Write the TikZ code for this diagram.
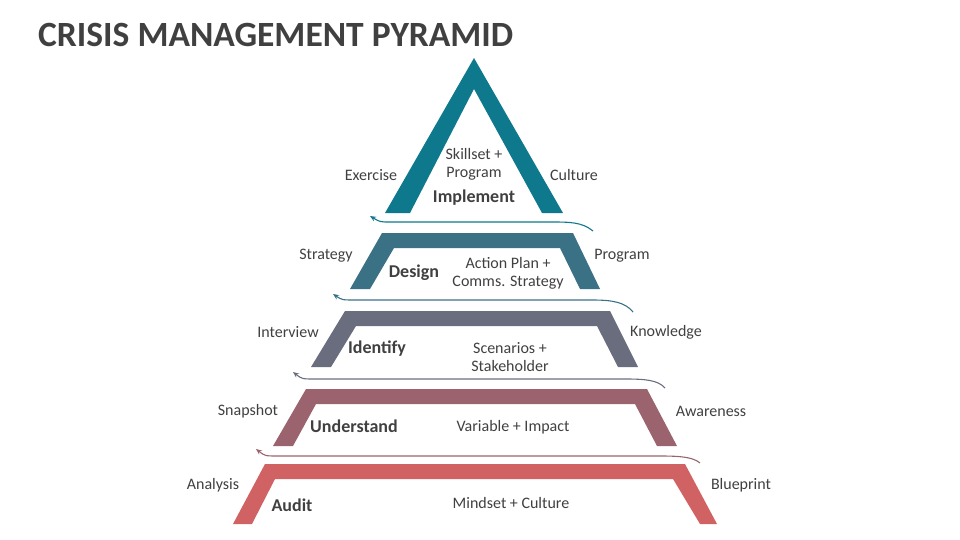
\documentclass[tikz,border=0pt]{standalone}
\usepackage{fontspec}
\setmainfont{Carlito}
\usetikzlibrary{arrows.meta}
\definecolor{cT}{HTML}{0E788C}
\definecolor{cD}{HTML}{3A7185}
\definecolor{cI}{HTML}{6A6D7E}
\definecolor{cU}{HTML}{9A636D}
\definecolor{cA}{HTML}{D06263}
\definecolor{txt}{HTML}{404040}
\begin{document}
\begin{tikzpicture}[x=1pt,y=-1pt,
  lbl/.style={font=\fontsize{16}{18}\selectfont,text=txt,align=center,inner sep=0},
  bold/.style={font=\fontsize{18}{20}\selectfont\bfseries,text=txt,inner sep=0},
  arr/.style={line width=1.1pt,-{Stealth[length=6pt,width=5pt]}}]
\useasboundingbox (0,0) rectangle (960,540);
\node[anchor=west,font=\fontsize{35.5}{38}\selectfont\bfseries,text=txt,inner sep=0] (title) at (38,35) {CRISIS MANAGEMENT PYRAMID};
% shapes
\fill[cT] (474,58)--(563,213)--(542,213)--(474,89)--(410,213)--(385,213)--cycle;
\fill[cD] (382,233)--(573,233)--(600,289)--(580,289)--(560,248)--(394,248)--(370,289)--(350,289)--cycle;
\fill[cI] (345,311)--(610,311)--(638,367)--(618,367)--(597,326)--(356,326)--(331,367)--(311,367)--cycle;
\fill[cU] (306,389)--(647,389)--(677,446)--(657,446)--(635,404)--(316,404)--(293,446)--(273,446)--cycle;
\fill[cA] (265,464)--(685,464)--(717,524)--(700,524)--(673,479)--(275,479)--(252,524)--(233,524)--cycle;
% arrows
\coordinate (a1s) at (593,231); \coordinate (a1e) at (370,216);
\coordinate (a2s) at (633,312); \coordinate (a2e) at (333,294);
\coordinate (a3s) at (665,388); \coordinate (a3e) at (293,372);
\coordinate (a4s) at (700,463); \coordinate (a4e) at (256,449);
\draw[arr,cT] (a1s) .. controls (582,222) and (570,222) .. (550,222) -- (390,222) .. controls (380,222) .. (a1e);
\draw[arr,cD] (a2s) .. controls (625,302) and (612,300) .. (592,300) -- (355,300) .. controls (342,300) .. (a2e);
\draw[arr,cI] (a3s) .. controls (658,380) and (645,379) .. (625,379) -- (315,379) .. controls (302,379) .. (a3e);
\draw[arr,cU] (a4s) .. controls (693,457) and (680,456) .. (660,456) -- (278,456) .. controls (265,456) .. (a4e);
% labels
\node[lbl] (exe) at (371,175) {Exercise};
\node[lbl] (sk) at (474,164) {Skillset +\\Program};
\node[lbl] (cul) at (574,175) {Culture};
\node[bold] (imp) at (474,198) {Implement};
\node[lbl] (str) at (326,256) {Strategy};
\node[bold] (des) at (414,273) {Design};
\node[lbl] (ap) at (508,273) {Action Plan +\\Comms. Strategy};
\node[lbl] (prg) at (622,256) {Program};
\node[lbl] (int) at (288,332) {Interview};
\node[bold] (idf) at (377,349) {Identify};
\node[lbl] (sc) at (510,357) {Scenarios +\\Stakeholder};
\node[lbl] (kn) at (666,332) {Knowledge};
\node[lbl] (snp) at (248,411) {Snapshot};
\node[bold] (und) at (354,426) {Understand};
\node[lbl] (vi) at (513,427) {Variable + Impact};
\node[lbl] (aw) at (711,411) {Awareness};
\node[lbl] (ana) at (213,485) {Analysis};
\node[bold] (aud) at (292,505) {Audit};
\node[lbl] (mc) at (511,503) {Mindset + Culture};
\node[lbl] (bp) at (741,485) {Blueprint};
\end{tikzpicture}
\end{document}
